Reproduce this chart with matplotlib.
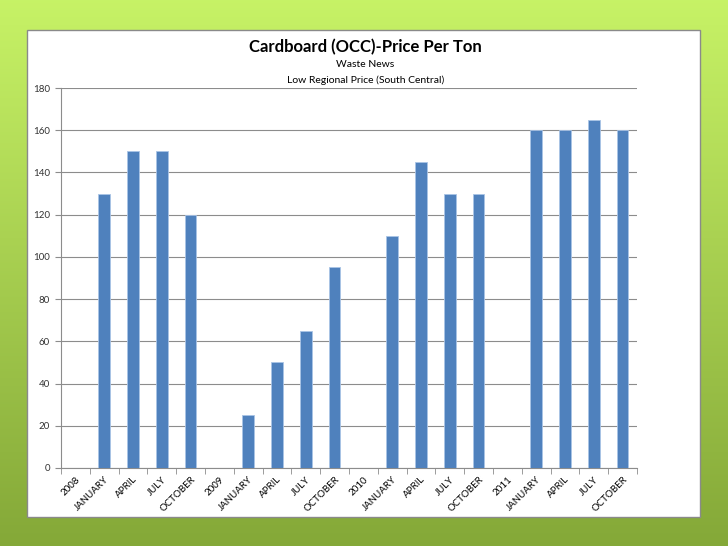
import numpy as np
import matplotlib.pyplot as plt
from matplotlib.patches import Rectangle

# category labels along the x axis (year markers have no bar)
labels = ['2008', 'JANUARY', 'APRIL', 'JULY', 'OCTOBER',
          '2009', 'JANUARY', 'APRIL', 'JULY', 'OCTOBER',
          '2010', 'JANUARY', 'APRIL', 'JULY', 'OCTOBER',
          '2011', 'JANUARY', 'APRIL', 'JULY', 'OCTOBER']
prices = [0, 130, 150, 150, 120,
          0, 25, 50, 65, 95,
          0, 110, 145, 130, 130,
          0, 160, 160, 165, 160]
yticks = [0, 20, 40, 60, 80, 100, 120, 140, 160, 180]

plt.rcParams['font.family'] = ['Lato', 'DejaVu Sans']

fig = plt.figure(figsize=(7.28, 5.46), dpi=100)

# green gradient background
bg = fig.add_axes([0, 0, 1, 1])
grad = np.linspace(0, 1, 256).reshape(-1, 1)
top = np.array([0.78, 0.95, 0.40])
bot = np.array([0.52, 0.66, 0.22])
img = top + (bot - top) * grad[:, :, None]
bg.imshow(img, aspect='auto', extent=[0, 1, 0, 1])
bg.add_patch(Rectangle((0.037, 0.053), 0.925, 0.892, transform=bg.transAxes,
                       facecolor='white', edgecolor='#8a8a8a', linewidth=1))
bg.set_xlim(0, 1)
bg.set_ylim(0, 1)
bg.axis('off')

fig.text(0.502, 0.913, 'Cardboard (OCC)-Price Per Ton', ha='center', va='center',
         fontsize=12, fontweight='bold', color='black')
fig.text(0.502, 0.881, 'Waste News', ha='center', va='center', fontsize=7.5)
fig.text(0.502, 0.853, 'Low Regional Price (South Central)', ha='center', va='center', fontsize=7.5)

ax = fig.add_axes([0.0838, 0.1429, 0.7912, 0.6959])
x = np.arange(len(labels))
ax.bar(x, prices, width=0.4, color='#4f81bd', edgecolor='#a9c4e6', linewidth=0.6, zorder=3)

ax.set_xlim(-0.5, len(labels) - 0.5)
ax.set_ylim(0, 180)
ax.set_yticks(yticks)
ax.yaxis.grid(True, color='#8c8c8c', linewidth=0.8, zorder=0)
ax.tick_params(axis='y', labelsize=7, colors='#333333', length=4, color='#8c8c8c', pad=4)

ax.set_xticks(x)
ax.set_xticklabels(labels, rotation=45, ha='right', rotation_mode='anchor', fontsize=7)
ax.tick_params(axis='x', length=0, pad=5)
ax.set_xticks(np.arange(len(labels) + 1) - 0.5, minor=True)
ax.tick_params(axis='x', which='minor', length=4, color='#8c8c8c')

for s in ['top', 'right']:
    ax.spines[s].set_visible(False)
for s in ['left', 'bottom']:
    ax.spines[s].set_color('#8c8c8c')
ax.set_facecolor('none')

fig.savefig('out.png', dpi=100)
